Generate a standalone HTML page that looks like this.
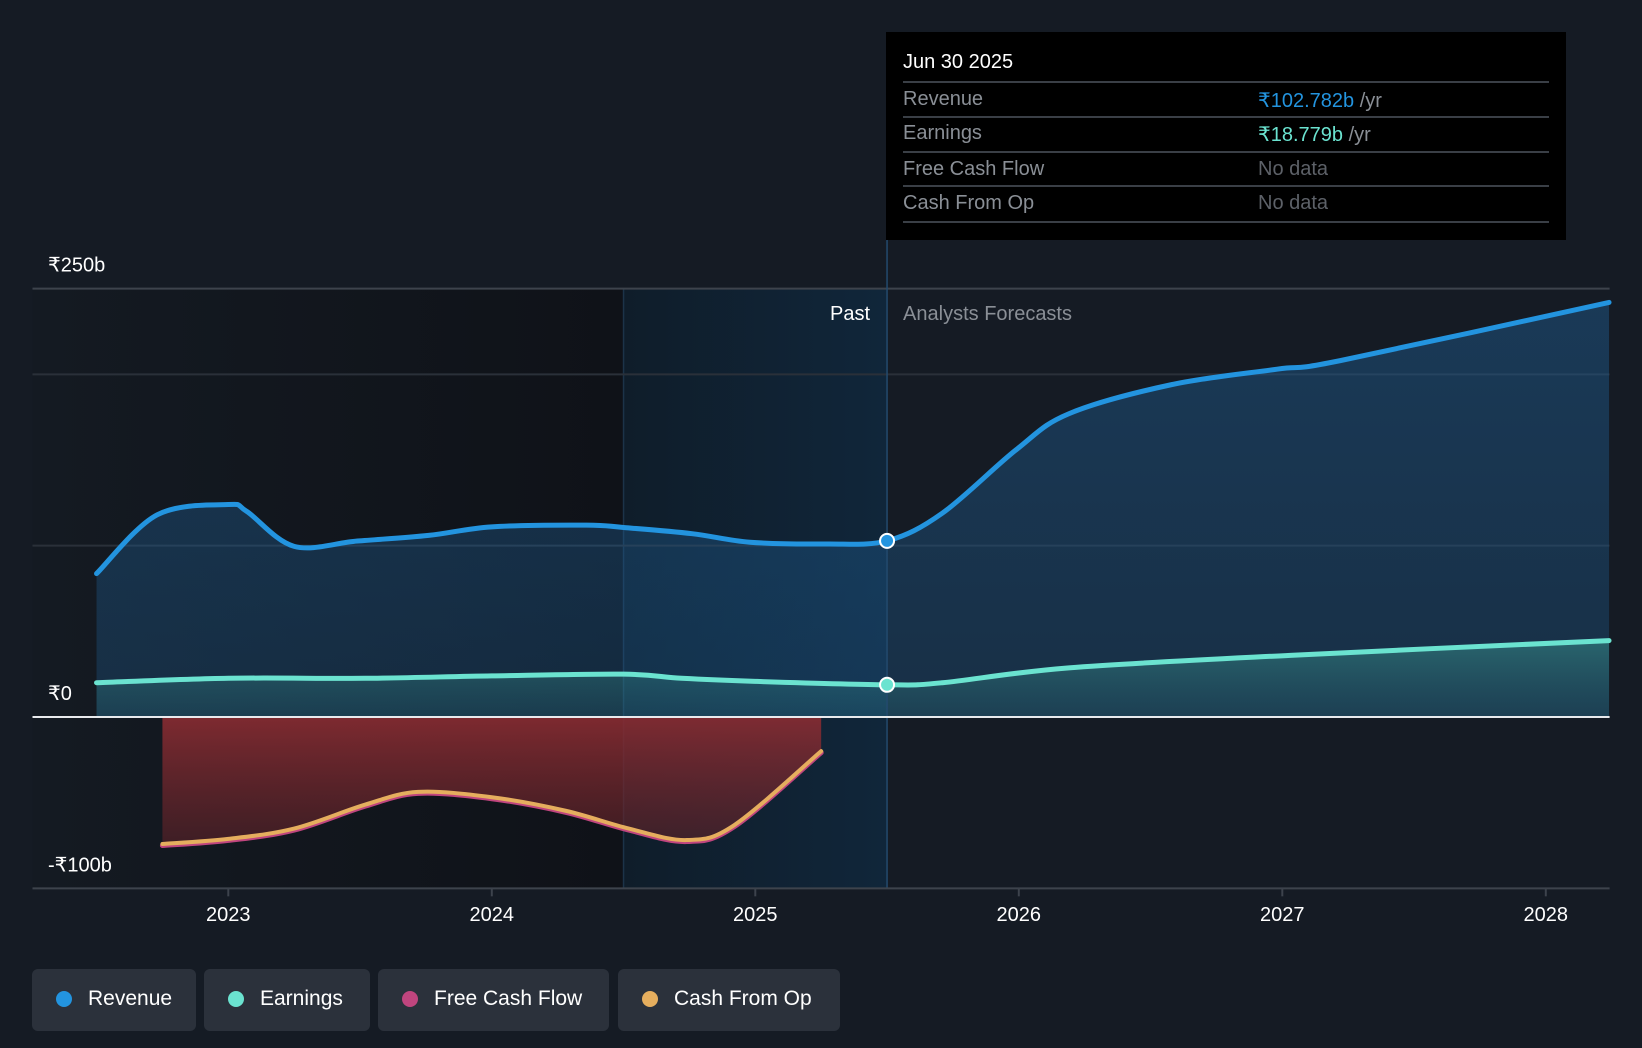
<!DOCTYPE html>
<html><head><meta charset="utf-8">
<style>
html,body{margin:0;padding:0;background:#151b24;width:1642px;height:1048px;overflow:hidden;font-family:"Liberation Sans",sans-serif;}
#wrap{position:relative;width:1642px;height:1048px;}
svg{position:absolute;left:0;top:0;}
.lg{position:absolute;top:969px;height:62px;background:#2b313b;border-radius:6px;color:#fff;font-size:21px;line-height:60px;box-sizing:border-box;padding-left:56px;}
.lg i{position:absolute;left:24px;top:22px;width:16px;height:16px;border-radius:50%;}
#tip{position:absolute;left:886px;top:32px;width:680px;height:208px;background:#000;}
.tr{position:absolute;left:17px;width:646px;border-top:2px solid #3a3f46;}
.tl{position:absolute;left:17px;font-size:20px;color:#8a8f96;}
.tv{position:absolute;left:372px;font-size:20px;color:#8a8f96;}
</style></head><body>
<div id="wrap">
<svg id="chart" width="1642" height="1048">
<defs>
<linearGradient id="pastDark" x1="0" x2="1" y1="0" y2="0"><stop offset="0" stop-color="#141a22"/><stop offset="1" stop-color="#0f1218"/></linearGradient>
<linearGradient id="pastHi" x1="0" x2="1" y1="0" y2="0"><stop offset="0" stop-color="#0f1d2a"/><stop offset="1" stop-color="#10263a"/></linearGradient>
<linearGradient id="revFill" x1="0" x2="0" y1="0" y2="1"><stop offset="0" stop-color="#1f5f95" stop-opacity="0.45"/><stop offset="1" stop-color="#1f5f95" stop-opacity="0.3"/></linearGradient>
<linearGradient id="earnFill" x1="0" x2="0" y1="0" y2="1"><stop offset="0" stop-color="#3fa59a" stop-opacity="0.45"/><stop offset="1" stop-color="#2a6f7a" stop-opacity="0.25"/></linearGradient>
<linearGradient id="fcfFill" x1="0" x2="0" y1="0" y2="1"><stop offset="0" stop-color="#8a2c32" stop-opacity="0.9"/><stop offset="1" stop-color="#5a2228" stop-opacity="0.6"/></linearGradient>
</defs>
</svg>
<div id="tip">
<div style="position:absolute;left:17px;top:19px;font-size:20px;color:#fff;">Jun 30 2025</div>
<div class="tr" style="top:49px"></div>
<div class="tl" style="top:56px">Revenue</div>
<div class="tv" style="top:56px"><span style="color:#2394df">₹102.782b</span> /yr</div>
<div class="tr" style="top:84px"></div>
<div class="tl" style="top:90px">Earnings</div>
<div class="tv" style="top:90px"><span style="color:#6be3d0">₹18.779b</span> /yr</div>
<div class="tr" style="top:119px"></div>
<div class="tl" style="top:126px">Free Cash Flow</div>
<div class="tv" style="top:126px;color:#5d6168">No data</div>
<div class="tr" style="top:153px"></div>
<div class="tl" style="top:160px">Cash From Op</div>
<div class="tv" style="top:160px;color:#5d6168">No data</div>
<div class="tr" style="top:189px"></div>
</div>
<div class="lg" style="left:32px;width:164px"><i style="background:#2394df"></i>Revenue</div>
<div class="lg" style="left:204px;width:166px"><i style="background:#6be3d0"></i>Earnings</div>
<div class="lg" style="left:378px;width:231px"><i style="background:#c0457e"></i>Free Cash Flow</div>
<div class="lg" style="left:618px;width:222px"><i style="background:#e5ae5e"></i>Cash From Op</div>
</div>
<script>
const revT=[2022.5,2022.73,2023.0,2023.07,2023.25,2023.49,2023.76,2024.0,2024.36,2024.5,2024.76,2024.98,2025.27,2025.5,2025.71,2025.99,2026.19,2026.58,2026.98,2027.22,2028.24];
const revV=[83.7,118,124,120,99.6,102.7,106,111,112,110.6,107,102,101,102.8,119,156,177,194,203,208,242];
const earnT=[2022.5,2023.0,2023.52,2024.0,2024.5,2024.72,2025.0,2025.5,2025.71,2026.19,2027.03,2028.24];
const earnV=[20,22.6,22.6,24,25,22.6,20.8,18.8,20,28.7,36,44.6];
const cfT=[2022.75,2023.0,2023.25,2023.52,2023.72,2024.0,2024.28,2024.52,2024.74,2024.92,2025.25];
const cfV=[-75,-72,-66,-52,-44.6,-47.7,-55.6,-66,-72.7,-64,-20.8];
const yTicks=[250,0,-100];
const yTickLabels=["₹250b","₹0","-₹100b"];
const gridVals=[250,200,100];
const xTicks=[2023,2024,2025,2026,2027,2028];
const NOW=2025.5;
const X=t=>228.3+(t-2023)*263.5;
const Y=v=>717-v*1.7133;
const L=32.5,R=1609.6;
const svg=document.getElementById('chart');
const NS='http://www.w3.org/2000/svg';
function mk(tag,at){const e=document.createElementNS(NS,tag);for(const k in at)e.setAttribute(k,at[k]);svg.appendChild(e);return e;}
function path(ts,vs){const p=ts.map((t,i)=>[X(t),Y(vs[i])]);let d='M'+p[0][0]+','+p[0][1];
for(let i=0;i<p.length-1;i++){const p0=p[Math.max(i-1,0)],p1=p[i],p2=p[i+1],p3=p[Math.min(i+2,p.length-1)];
const c1=[p1[0]+(p2[0]-p0[0])/6,p1[1]+(p2[1]-p0[1])/6],c2=[p2[0]-(p3[0]-p1[0])/6,p2[1]-(p3[1]-p1[1])/6];
d+=' C'+c1[0]+','+c1[1]+' '+c2[0]+','+c2[1]+' '+p2[0]+','+p2[1];}return d;}
let e;
e=mk('rect',{x:L,y:Y(250),width:X(2024.5)-L,height:Y(-100)-Y(250),fill:'url(#pastDark)'});


e=mk('rect',{x:X(2024.5),y:Y(250),width:X(NOW)-X(2024.5),height:Y(-100)-Y(250),fill:'url(#pastHi)'});


mk('line',{x1:X(2024.5),x2:X(2024.5),y1:Y(250),y2:Y(-100),stroke:'#1c3348','stroke-width':1.5});
gridVals.forEach(v=>{e=mk('line',{x1:L,x2:R,y1:Y(v),y2:Y(v),stroke:v==250?'#3d434c':'#2a3039','stroke-width':2});

});
const revD=path(revT,revV);
e=mk('path',{d:revD+` L${X(revT[revT.length-1])},${Y(0)} L${X(revT[0])},${Y(0)} Z`,fill:'url(#revFill)'});


const earnD=path(earnT,earnV);
e=mk('path',{d:earnD+` L${X(earnT[earnT.length-1])},${Y(0)} L${X(earnT[0])},${Y(0)} Z`,fill:'url(#earnFill)'});


const cfD=path(cfT,cfV);
e=mk('path',{d:cfD+` L${X(cfT[cfT.length-1])},${Y(0)} L${X(cfT[0])},${Y(0)} Z`,fill:'url(#fcfFill)'});


mk('line',{x1:X(NOW),x2:X(NOW),y1:240,y2:Y(-100),stroke:'#234a6e','stroke-width':1.5});
e=mk('path',{d:cfD,fill:'none',stroke:'#c0457e','stroke-width':5,'stroke-linecap':'round'});


e=mk('path',{d:cfD,fill:'none',stroke:'#e5ae5e','stroke-width':4,'stroke-linecap':'round',transform:'translate(0,-1.5)'});


e=mk('path',{d:earnD,fill:'none',stroke:'#6be3d0','stroke-width':5,'stroke-linecap':'round'});


e=mk('path',{d:revD,fill:'none',stroke:'#2394df','stroke-width':5,'stroke-linecap':'round'});


mk('line',{x1:L,x2:R,y1:Y(0),y2:Y(0),stroke:'#e8eaed','stroke-width':2});
mk('line',{x1:L,x2:R,y1:Y(-100),y2:Y(-100),stroke:'#3d434c','stroke-width':2});
e=mk('circle',{cx:X(NOW),cy:Y(revV[revT.indexOf(NOW)]),r:7,fill:'#2394df',stroke:'#fff','stroke-width':2});


e=mk('circle',{cx:X(NOW),cy:Y(earnV[earnT.indexOf(NOW)]),r:7,fill:'#6be3d0',stroke:'#fff','stroke-width':2});


yTicks.forEach((v,i)=>{e=mk('text',{x:48,y:Y(v)-17,fill:'#fff','font-size':20,'font-family':'Liberation Sans, sans-serif'});e.textContent=yTickLabels[i];

});
xTicks.forEach(t=>{mk('line',{x1:X(t),x2:X(t),y1:Y(-100),y2:Y(-100)+8,stroke:'#3d434c','stroke-width':2});
e=mk('text',{x:X(t),y:921,fill:'#fff','font-size':20,'text-anchor':'middle','font-family':'Liberation Sans, sans-serif'});e.textContent=t;

});
e=mk('text',{x:X(NOW)-17,y:320,fill:'#fff','font-size':20,'text-anchor':'end','font-family':'Liberation Sans, sans-serif'});e.textContent='Past';


e=mk('text',{x:X(NOW)+16,y:320,fill:'#8a8f96','font-size':20,'font-family':'Liberation Sans, sans-serif'});e.textContent='Analysts Forecasts';


</script>
</body></html>
